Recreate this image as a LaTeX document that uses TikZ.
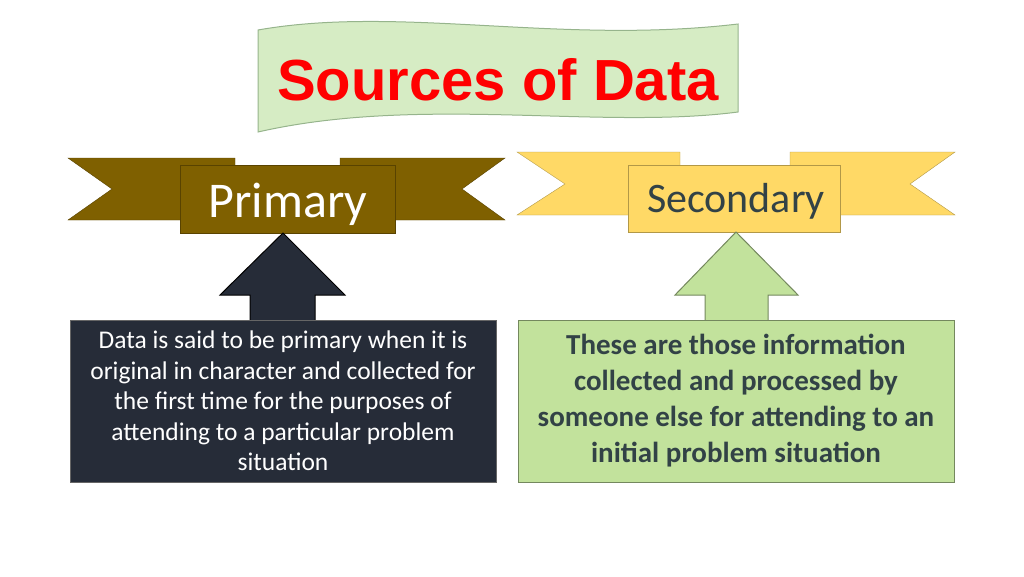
\documentclass[tikz,border=0pt]{standalone}
\usepackage{fontspec}
\setmainfont{Carlito}
\newfontfamily\titlefont{Liberation Sans}
\usepackage{tikz}
\definecolor{olive}{RGB}{127,96,0}
\definecolor{sand}{RGB}{255,217,102}
\definecolor{slate}{RGB}{38,44,56}
\definecolor{leaf}{RGB}{194,226,156}
\definecolor{mint}{RGB}{214,236,196}
\definecolor{ink}{RGB}{50,66,70}
\tikzset{
  boxtext/.style={align=center,font=\fontsize{25.5}{30.5}\selectfont},
  ribbon/.style={draw=#1!70!black,fill=#1}
}
\begin{document}
\begin{tikzpicture}[x=1pt,y=-1pt]
\useasboundingbox (0,0) rectangle (1024,576);

%Shape: Wave [title banner]
\draw [draw={rgb,255:red,150;green,180;blue,140},fill=mint,line width=1pt]
  (258,30) .. controls (400,5) and (560,45) .. (738,24) -- (738,112)
  .. controls (600,130) and (420,95) .. (258,132) -- cycle ;
\node (title) at (498,80) {\titlefont\bfseries\fontsize{58}{58}\selectfont\color{red}Sources of Data};

%Shape: Ribbon [primary]
\draw [ribbon=olive] (68,158) -- (235,158) -- (235,220) -- (68,220) -- (112,189) -- cycle ;
\draw [ribbon=olive] (340,158) -- (505,158) -- (462,189) -- (505,220) -- (340,220) -- cycle ;
\draw [ribbon=olive] (180,165) rectangle (395,233) ;
\node (primary) at (288,204) {\fontsize{50}{50}\selectfont\color{white}Primary};

%Shape: Ribbon [secondary]
\draw [ribbon=sand] (517,152) -- (680,152) -- (680,215) -- (517,215) -- (565,184) -- cycle ;
\draw [ribbon=sand] (790,152) -- (955,152) -- (910,184) -- (955,215) -- (790,215) -- cycle ;
\draw [ribbon=sand] (628,165) rectangle (840,232) ;
\node (secondary) at (736,201) {\fontsize{42}{42}\selectfont\color{ink}Secondary};

%Shape: Up Arrow [primary]
\draw [fill=slate,draw=black,line width=1pt] (283,233) -- (345,295) -- (315,295) -- (315,322) -- (250,322) -- (250,295) -- (220,295) -- cycle ;
%Shape: Up Arrow [secondary]
\draw [fill=leaf,draw=leaf!60!black,line width=1pt] (736,232) -- (798,295) -- (768,295) -- (768,322) -- (705,322) -- (705,295) -- (675,295) -- cycle ;

%Shape: Rectangle [primary text]
\draw [fill=slate,draw=black!60,line width=1pt] (70,320) rectangle (496,482) ;
\node [boxtext,text=white] (primtext) at (283,401) {Data is said to be primary when it is\\ original in character and collected for\\ the first time for the purposes of\\ attending to a particular problem\\ situation};

%Shape: Rectangle [secondary text]
\draw [fill=leaf,draw=leaf!60!black,line width=1pt] (518,320) rectangle (954,482) ;
\node [boxtext,text=ink,font=\fontsize{29}{36}\selectfont\bfseries] (sectext) at (736,401) {These are those information\\ collected and processed by\\ someone else for attending to an\\ initial problem situation};

\end{tikzpicture}
\end{document}
